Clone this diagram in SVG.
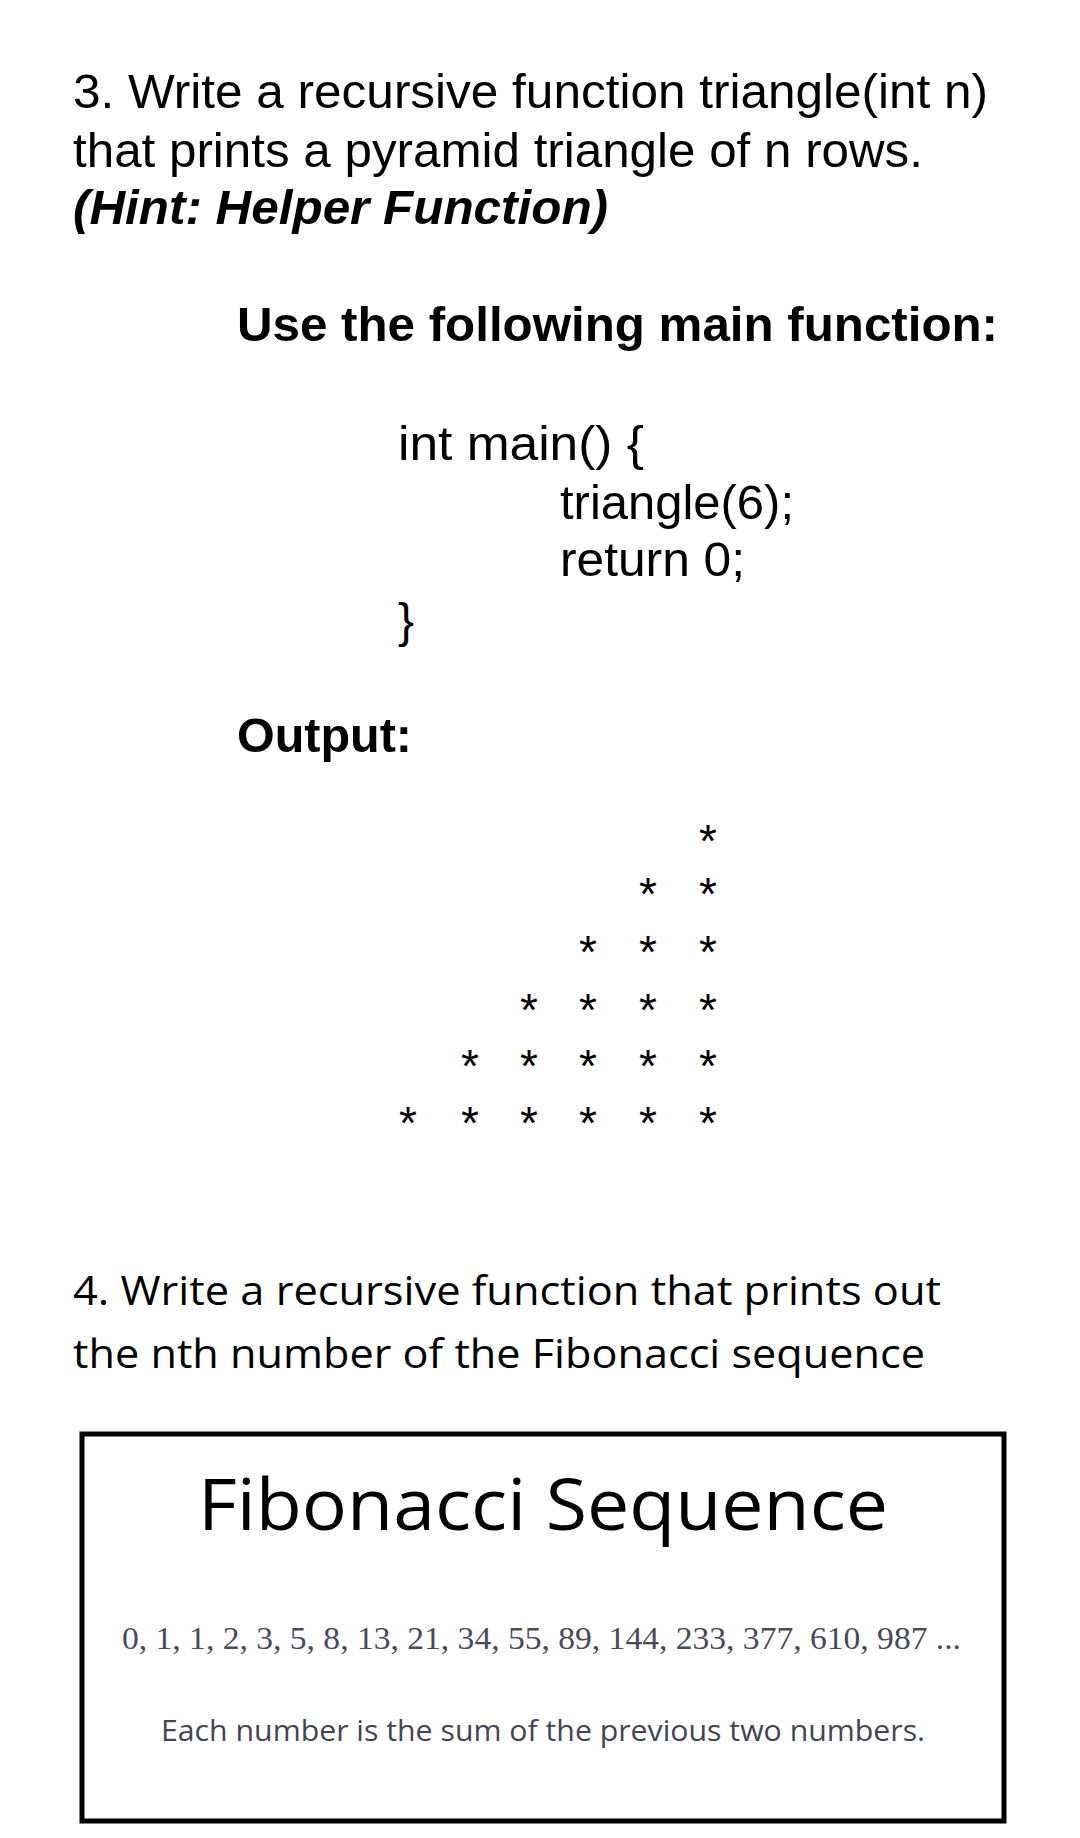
<svg xmlns="http://www.w3.org/2000/svg" width="1080" height="1838" viewBox="0 0 1080 1838">
<style>
.a{font-family:"Liberation Sans",Arial,sans-serif;fill:#000}
.b{font-weight:bold}
.c{font-family:"Open Sans","Noto Sans",sans-serif}
.s{font-family:"Liberation Sans",Arial,sans-serif;font-size:46px;text-anchor:middle}
</style>
<rect width="1080" height="1838" fill="#fff"/>
<g id="q3">
<text class="a" x="73" y="108" font-size="48" textLength="915" lengthAdjust="spacingAndGlyphs">3. Write a recursive function triangle(int n)</text>
<text class="a" x="73" y="167" font-size="48" textLength="850" lengthAdjust="spacingAndGlyphs">that prints a pyramid triangle of n rows.</text>
<text class="a b" x="73" y="224" font-size="48" font-style="italic" textLength="535" lengthAdjust="spacingAndGlyphs">(Hint: Helper Function)</text>
</g>
<g id="main">
<text class="a b" x="237" y="341" font-size="48" textLength="761" lengthAdjust="spacingAndGlyphs">Use the following main function:</text>
<text class="a" x="398" y="460" font-size="48" textLength="246" lengthAdjust="spacingAndGlyphs">int main() {</text>
<text class="a" x="560" y="519" font-size="48" textLength="234" lengthAdjust="spacingAndGlyphs">triangle(6);</text>
<text class="a" x="560" y="576" font-size="48" textLength="185" lengthAdjust="spacingAndGlyphs">return 0;</text>
<text class="a" x="398" y="637" font-size="48">}</text>
</g>
<g id="output">
<text class="a b" x="237" y="752" font-size="48" textLength="175" lengthAdjust="spacingAndGlyphs">Output:</text>
<g class="s">
<text x="708" y="857">*</text>
<text x="648" y="910">*</text><text x="708" y="910">*</text>
<text x="588" y="968">*</text><text x="648" y="968">*</text><text x="708" y="968">*</text>
<text x="529" y="1026">*</text><text x="588" y="1026">*</text><text x="648" y="1026">*</text><text x="708" y="1026">*</text>
<text x="470" y="1082">*</text><text x="529" y="1082">*</text><text x="588" y="1082">*</text><text x="648" y="1082">*</text><text x="708" y="1082">*</text>
<text x="408" y="1139">*</text><text x="470" y="1139">*</text><text x="529" y="1139">*</text><text x="588" y="1139">*</text><text x="648" y="1139">*</text><text x="708" y="1139">*</text>
</g>
</g>
<g id="q4">
<text class="c" x="73" y="1305" font-size="40" textLength="868" lengthAdjust="spacingAndGlyphs">4. Write a recursive function that prints out</text>
<text class="c" x="73" y="1368" font-size="40" textLength="852" lengthAdjust="spacingAndGlyphs">the nth number of the Fibonacci sequence</text>
</g>
<g id="fib">
<rect x="82" y="1434" width="922" height="387" fill="none" stroke="#000" stroke-width="5"/>
<text class="c" x="198" y="1530" font-size="72" textLength="690" lengthAdjust="spacingAndGlyphs">Fibonacci Sequence</text>
<text x="122" y="1649" font-family="'Liberation Serif',serif" font-size="32" fill="#4a4a5a" textLength="839" lengthAdjust="spacingAndGlyphs">0, 1, 1, 2, 3, 5, 8, 13, 21, 34, 55, 89, 144, 233, 377, 610, 987 ...</text>
<text class="c" x="161" y="1741" font-size="30" fill="#444455" textLength="764" lengthAdjust="spacingAndGlyphs">Each number is the sum of the previous two numbers.</text>
</g>
</svg>
